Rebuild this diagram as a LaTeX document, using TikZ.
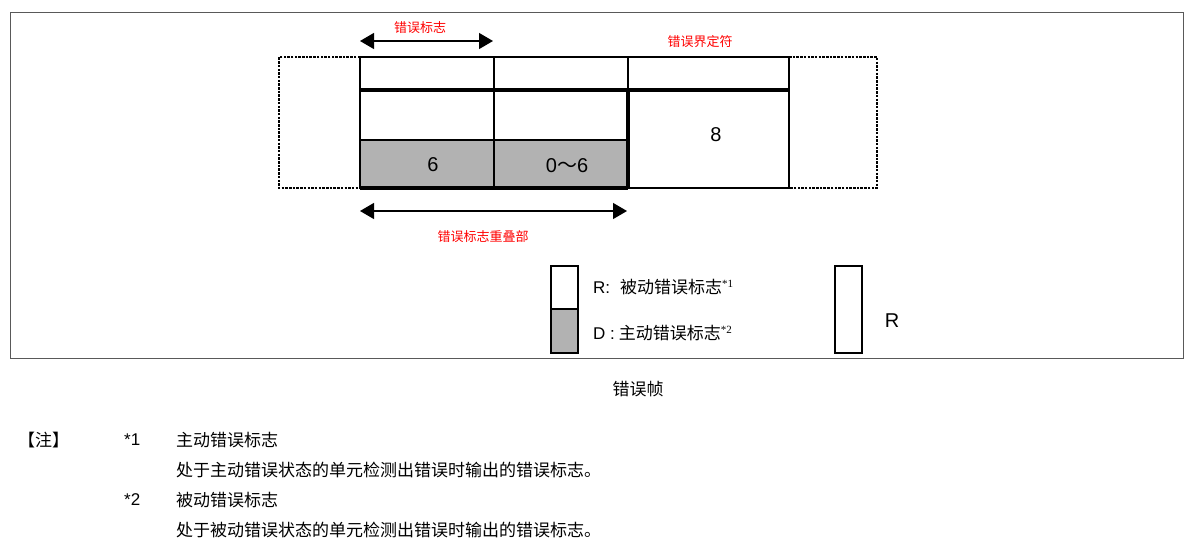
\documentclass[tikz,border=0pt]{standalone}
\usepackage{fontspec}
\usetikzlibrary{arrows.meta}
\setmainfont{Liberation Sans}
\newfontfamily\cjk{Noto Sans CJK SC}
\newfontfamily\latsans{Liberation Sans}
\newfontfamily\latserif{Liberation Serif}
\definecolor{flag}{RGB}{255,0,0}
\definecolor{greyfill}{RGB}{178,178,178}
\begin{document}
\begin{tikzpicture}[x=1pt,y=-1pt,
  thin line/.style={draw=black,line width=1.2pt},
  thick line/.style={draw=black,line width=3.5pt},
  dot box/.style={draw=black,line width=1.5pt,dash pattern=on 2.5pt off 1.2pt},
  redlbl/.style={text=flag,font=\cjk\fontsize{13}{13}\selectfont,inner sep=0pt},
  txt/.style={font=\cjk\fontsize{17}{17}\selectfont,inner sep=0pt,anchor=west},
  num/.style={font=\fontsize{20}{20}\selectfont,inner sep=0pt},
  dimarrow/.style={line width=1.3pt,{Triangle[length=14pt,width=16pt]}-{Triangle[length=14pt,width=16pt]}}]
\useasboundingbox (0,0) rectangle (1193,555);
\draw[draw=gray!70!black,line width=0.8pt] (10,12) rectangle (1183,358);
% dotted side boxes
\draw[dot box] (360,57) -- (279,57) -- (279,188) -- (360,188);
\draw[dot box] (789,57) -- (877,57) -- (877,188) -- (789,188);
% grid
\fill[greyfill] (360,140) rectangle (628,188);
\draw[thin line] (360,57) rectangle (789,188);
\draw[thin line] (494,57) -- (494,188);
\draw[thin line] (628,57) -- (628,90);
\draw[thin line] (360,140) -- (628,140);
\draw[thick line] (360,90) -- (789,90);
\draw[thick line] (628,90) -- (628,188);
\draw[thick line] (360,188) -- (628,188);
\node[num] (n6) at (433,165) {6};
\node[num] (n06) at (567,166) {0{\cjk～}6};
\node[num] (n8) at (716,135) {8};
% arrows
\coordinate (a1) at (360,41); \coordinate (a2) at (493,41);
\draw[dimarrow] (a1) -- (a2);
\node[redlbl] (l1) at (420,28) {错误标志};
\node[redlbl] (l2) at (700,42) {错误界定符};
\coordinate (b1) at (360,211); \coordinate (b2) at (627,211);
\draw[dimarrow] (b1) -- (b2);
\node[redlbl] (l3) at (483,237) {错误标志重叠部};
% legend
\fill[greyfill] (551,309) rectangle (578,353);
\draw[thin line] (551,266) rectangle (578,353);
\draw[thin line] (551,309) -- (578,309);
\node[txt] (r1) at (593,287) {{\latsans R:}\hspace{10pt}被动错误标志\raisebox{6pt}{\latserif\fontsize{11}{11}\selectfont *1}};
\node[txt] (r2) at (593,333) {{\latsans D :}\hspace{4pt}主动错误标志\raisebox{6pt}{\latserif\fontsize{11}{11}\selectfont *2}};
\draw[thin line] (835,266) rectangle (862,353);
\node[num] (rr) at (892,321) {R};
% caption and notes
\node[txt,anchor=center] (cap) at (638,389) {错误帧};
\node[txt] (note) at (18,440) {【注】};
\node[txt,font=\fontsize{17}{17}\selectfont] (s1) at (124,440) {*1};
\node[txt] (t1) at (176,440) {主动错误标志};
\node[txt] (t2) at (176,470) {处于主动错误状态的单元检测出错误时输出的错误标志。};
\node[txt,font=\fontsize{17}{17}\selectfont] (s2) at (124,500) {*2};
\node[txt] (t3) at (176,500) {被动错误标志};
\node[txt] (t4) at (176,530) {处于被动错误状态的单元检测出错误时输出的错误标志。};
\end{tikzpicture}
\end{document}
